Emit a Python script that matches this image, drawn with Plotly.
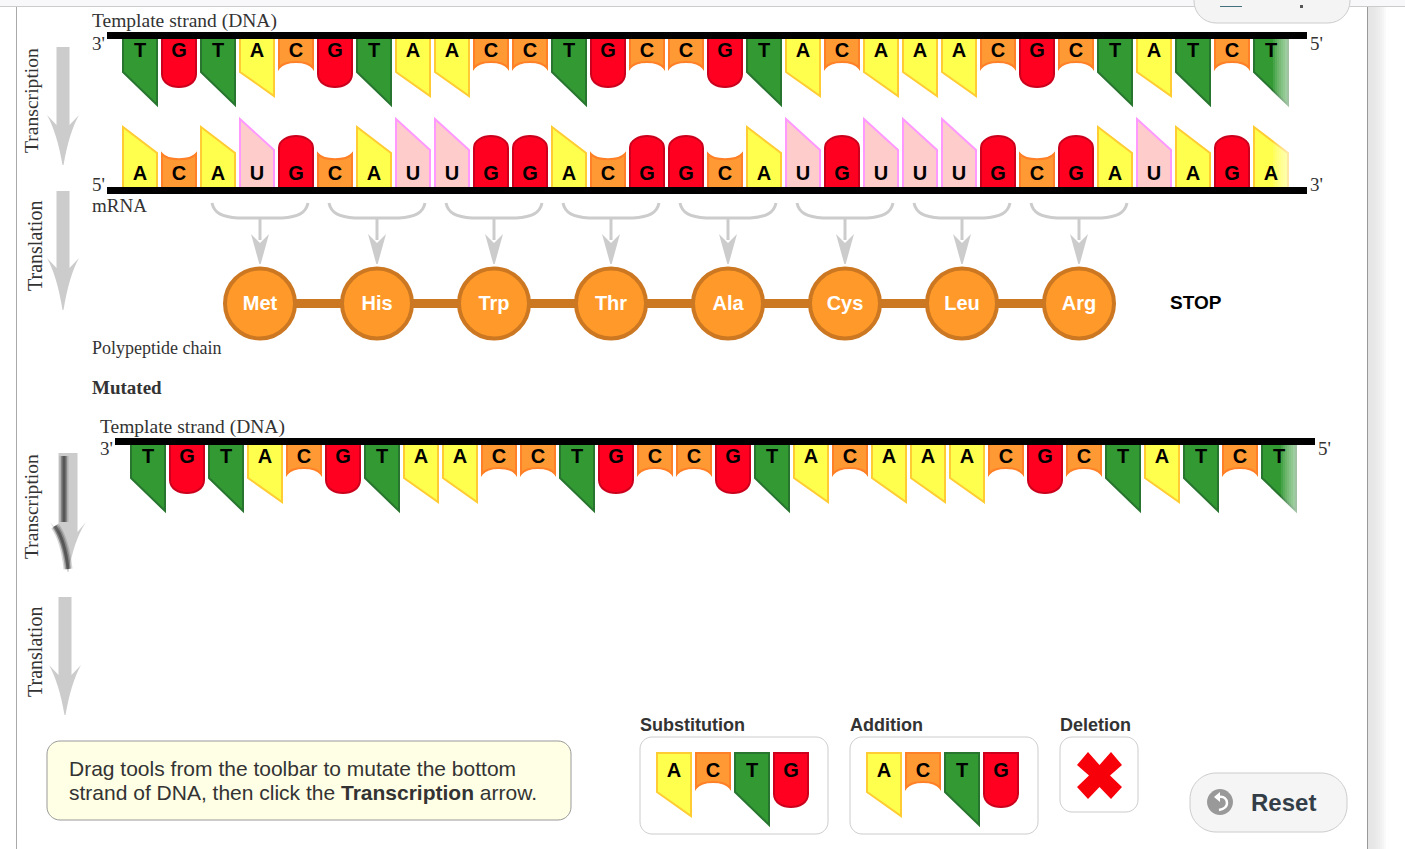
import plotly.graph_objects as go

# sequences
template_seq = list("TGTACGTAACCTGCCGTACAAACGCTATCT")
mrna_seq = list("ACAUGCAUUGGACGGCAUGUUUGCGAUAGA")
mutated_seq = list("TGTACGTAACCTGCCGTACAAACGCTATCT")
amino_acids = ["Met", "His", "Trp", "Thr", "Ala", "Cys", "Leu", "Arg"]
toolbar_seq = list("ACTG")

fill_col = {"T": "#339933", "G": "#ff0020", "A": "#ffff4d", "C": "#ff9933", "U": "#ffcccc"}
line_col = {"T": "#27752f", "G": "#cc001c", "A": "#ffcc33", "C": "#ff8026", "U": "#ff99ff"}

STEP = 39
W = 36
shapes = []
letters_x, letters_y, letters_t = [], [], []


def rect(x0, y0, x1, y1, fill, line=None, lw=0, layer="below"):
    shapes.append(dict(type="rect", x0=x0, y0=y0, x1=x1, y1=y1, fillcolor=fill, layer=layer,
                       line=dict(color=line or fill, width=lw)))


def path(d, fill=None, line=None, lw=0):
    shapes.append(dict(type="path", path=d, layer="below", fillcolor=fill or "rgba(0,0,0,0)",
                       line=dict(color=line or "rgba(0,0,0,0)", width=lw)))


def round_box(x0, y0, x1, y1, r, fill, line, lw=1):
    k = r * 0.45
    d = (f"M{x0+r},{y0} L{x1-r},{y0} C{x1-k},{y0} {x1},{y0+k} {x1},{y0+r} "
         f"L{x1},{y1-r} C{x1},{y1-k} {x1-k},{y1} {x1-r},{y1} "
         f"L{x0+r},{y1} C{x0+k},{y1} {x0},{y1-k} {x0},{y1-r} "
         f"L{x0},{y0+r} C{x0},{y0+k} {x0+k},{y0} {x0+r},{y0} Z")
    path(d, fill, line, lw)


def base_down(b, x, yt):
    l, r = x + 1, x + W - 1
    t = yt + 1
    if b == "T":
        d = f"M{l},{t} L{r},{t} L{r},{yt+73} L{l},{yt+40} Z"
    elif b == "A":
        d = f"M{l},{t} L{r},{t} L{r},{yt+64} L{l},{yt+40} Z"
    elif b == "G":
        d = f"M{l},{t} L{r},{t} L{r},{yt+42} C{r},{yt+51} {x+W*0.72},{yt+55} {x+W/2},{yt+55} C{x+W*0.28},{yt+55} {l},{yt+51} {l},{yt+42} Z"
    else:
        d = f"M{l},{t} L{r},{t} L{r},{yt+36} C{r-6},{yt+28} {l+6},{yt+28} {l},{yt+36} Z"
    path(d, fill_col[b], line_col[b], 2)
    letters_x.append(x + W / 2)
    letters_y.append(yt + 20)
    letters_t.append(b)


def base_up(b, x, yb):
    l, r = x + 1, x + W - 1
    z = yb - 1
    if b == "A":
        d = f"M{l},{z} L{r},{z} L{r},{yb-41} L{l},{yb-67} Z"
    elif b == "U":
        d = f"M{l},{z} L{r},{z} L{r},{yb-44} L{l},{yb-75} Z"
    elif b == "G":
        d = f"M{l},{z} L{r},{z} L{r},{yb-46} C{r},{yb-54} {x+W*0.72},{yb-58} {x+W/2},{yb-58} C{x+W*0.28},{yb-58} {l},{yb-54} {l},{yb-46} Z"
    else:
        d = f"M{l},{z} L{r},{z} L{r},{yb-40} C{r-6},{yb-33} {l+6},{yb-33} {l},{yb-40} Z"
    path(d, fill_col[b], line_col[b], 2)
    letters_x.append(x + W / 2)
    letters_y.append(yb - 19)
    letters_t.append(b)


def fade_right(x, y0, y1):
    # last base of a strand fades out to the right
    for i in range(8):
        rect(x + W - 16 + i * 2, y0, x + W, y1, "rgba(255,255,255,0.10)")


def big_arrow(xc, ytop, ywing, ytip, hs=6.5, hw=16):
    d = (f"M{xc-hs},{ytop} L{xc+hs},{ytop} L{xc+hs},{ywing+10} L{xc+hw},{ywing} "
         f"Q{xc+6},{ywing+18} {xc+0.5},{ytip} L{xc-0.5},{ytip} Q{xc-6},{ywing+18} {xc-hw},{ywing} "
         f"L{xc-hs},{ywing+10} Z")
    path(d, "#cccccc")


# page frame
rect(0, 0, 1405, 6, "#f8f8fa")
rect(0, 6, 1405, 7, "#cccccc")
rect(16, 7, 17, 849, "#aaaaaa")
for i in range(9):
    rect(1368, 7, 1386 - i * 2, 849, "rgba(225,225,225,0.16)")
rect(1367, 7, 1368, 849, "#999999")
round_box(1194, -30, 1350, 23, 22, "#f4f4f4", "#cccccc")
rect(1220, 6, 1242, 7, "#44707c")
rect(1300, 5, 1303, 8, "#555555")

# original strand
for i, b in enumerate(template_seq):
    base_down(b, 122 + i * STEP, 32)
fade_right(122 + 29 * STEP, 32, 107)
rect(107, 32, 1307, 39, "#000000")

# mRNA
for i, b in enumerate(mrna_seq):
    base_up(b, 122 + i * STEP, 194)
fade_right(122 + 29 * STEP, 120, 188)
rect(107, 187, 1307, 194, "#000000")

# codon braces and little arrows
for i in range(len(amino_acids)):
    cx = 260 + i * 117
    d = (f"M{cx-48},{203} C{cx-46},{213} {cx-38},{217} {cx-22},{218} L{cx+22},{218} "
         f"C{cx+38},{217} {cx+46},{213} {cx+48},{203}")
    path(d, None, "#cccccc", 3)
    path(f"M{cx},{218} L{cx},{240}", None, "#cccccc", 3)
    path(f"M{cx-9},{234} L{cx},{243} L{cx+9},{234} L{cx+0.7},{264} L{cx-0.7},{264} Z", "#cccccc")

# mutated strand
for i, b in enumerate(mutated_seq):
    base_down(b, 130 + i * STEP, 438)
fade_right(130 + 29 * STEP, 438, 513)
rect(115, 438, 1315, 445, "#000000")

# side arrows
big_arrow(63, 47, 115, 165)
big_arrow(63, 191, 258, 310)
big_arrow(68, 453, 522, 572, hs=9.5, hw=18)
big_arrow(65, 597, 665, 715)
for w, c in ((9, "rgba(90,90,90,0.25)"), (6, "rgba(70,70,70,0.4)"), (3, "rgba(50,50,50,0.55)")):
    path("M64,456 L64,522", None, c, w)
    path("M55,526 Q65,540 68,569", None, c, w)

# message box and toolbar
round_box(47, 741, 571, 820, 13, "#ffffe6", "#999999")
round_box(640, 737, 828, 834, 12, "#ffffff", "#cccccc")
round_box(850, 737, 1038, 834, 12, "#ffffff", "#cccccc")
round_box(1060, 737, 1138, 812, 12, "#ffffff", "#cccccc")
for x0 in (656, 866):
    for i, b in enumerate(toolbar_seq):
        base_down(b, x0 + i * STEP, 752)

# red cross of the deletion tool
path("M1077,765 L1088,752 L1099.5,765 L1111,752 L1122,765 L1110,775.5 L1122,787 L1111,799 L1099.5,787 "
     "L1088,799 L1077,787 L1089,775.5 Z", "#f7000a")

# reset button
round_box(1190, 773, 1347, 832, 26, "#f5f5f5", "#cccccc")
path("M1220,789 C1213,789 1207,795 1207,802 C1207,809 1213,815 1220,815 C1227,815 1233,809 1233,802 "
     "C1233,795 1227,789 1220,789 Z", "#999999")
path("M1219,797 C1224,796 1227,799 1227,803 C1227,807 1224,809 1219,810", None, "#ffffff", 2.5)
path("M1214,797 L1220,792 L1220,802 Z", "#ffffff")

fig = go.Figure()

# peptide chain
chain_x = [260 + i * 117 for i in range(len(amino_acids))]
chain_y = [303.5] * len(amino_acids)
fig.add_trace(go.Scatter(x=chain_x, y=chain_y, mode="lines", line=dict(color="#cc7722", width=9), hoverinfo="skip"))
fig.add_trace(go.Scatter(
    x=chain_x, y=chain_y, mode="markers",
    marker=dict(size=70, color="#ff9a2a", line=dict(color="#cc7722", width=4)), hoverinfo="skip"
))
fig.add_trace(go.Scatter(
    x=chain_x, y=[v + 1 for v in chain_y], mode="text", text=amino_acids, textposition="middle center",
    textfont=dict(family="Liberation Sans", size=20, color="#ffffff", weight="bold"), hoverinfo="skip"
))
fig.add_trace(go.Scatter(
    x=letters_x, y=letters_y, mode="text", text=letters_t, textposition="middle center",
    textfont=dict(family="Liberation Sans", size=20, color="#000000", weight="bold"), hoverinfo="skip"
))

SERIF = "Liberation Serif"
SANS = "Liberation Sans"


def label(txt, x, y, size=19, font=SERIF, color="#333333", angle=0, anchor="left"):
    fig.add_annotation(x=x, y=y, text=txt, showarrow=False, xanchor=anchor, yanchor="middle", textangle=angle,
                       borderpad=0, font=dict(family=font, size=size, color=color))


label("Template strand (DNA)", 91, 21, size=19.5)
label("3'", 91, 43)
label("5'", 1309, 43)
label("5'", 91, 184)
label("3'", 1309, 184)
label("mRNA", 91, 205)
label("Polypeptide chain", 91, 348, size=18)
label("<b>Mutated</b>", 91, 387)
label("Template strand (DNA)", 99, 427, size=19.5)
label("3'", 99, 448)
label("5'", 1317, 448)
label("Transcription", 31, 101, size=19.6, angle=-90, anchor="center")
label("Translation", 35, 246, size=20, angle=-90, anchor="center")
label("Transcription", 31, 507, size=19.6, angle=-90, anchor="center")
label("Translation", 35, 652, size=20, angle=-90, anchor="center")
label("<b>STOP</b>", 1169, 302, size=19, font=SANS, color="#000000")
label("Drag tools from the toolbar to mutate the bottom", 68, 768, size=21, font=SANS)
label("strand of DNA, then click the <b>Transcription</b> arrow.", 68, 792, size=21, font=SANS)
label("<b>Substitution</b>", 639, 725, size=18, font=SANS)
label("<b>Addition</b>", 849, 725, size=18, font=SANS)
label("<b>Deletion</b>", 1059, 725, size=18, font=SANS)
label("<b>Reset</b>", 1250, 802, size=24, font=SANS, color="#333d47")

fig.update_layout(
    width=1405, height=849, margin=dict(l=0, r=0, t=0, b=0), showlegend=False,
    paper_bgcolor="#ffffff", plot_bgcolor="#ffffff", shapes=shapes,
    xaxis=dict(range=[0, 1405], visible=False, fixedrange=True),
    yaxis=dict(range=[849, 0], visible=False, fixedrange=True),
)

# the page body has a default margin, drop it so the figure sits at 0,0
fig.write_html("out.html", config={"displayModeBar": False},
               post_script="document.body.style.margin='0';document.body.style.overflow='hidden';")
